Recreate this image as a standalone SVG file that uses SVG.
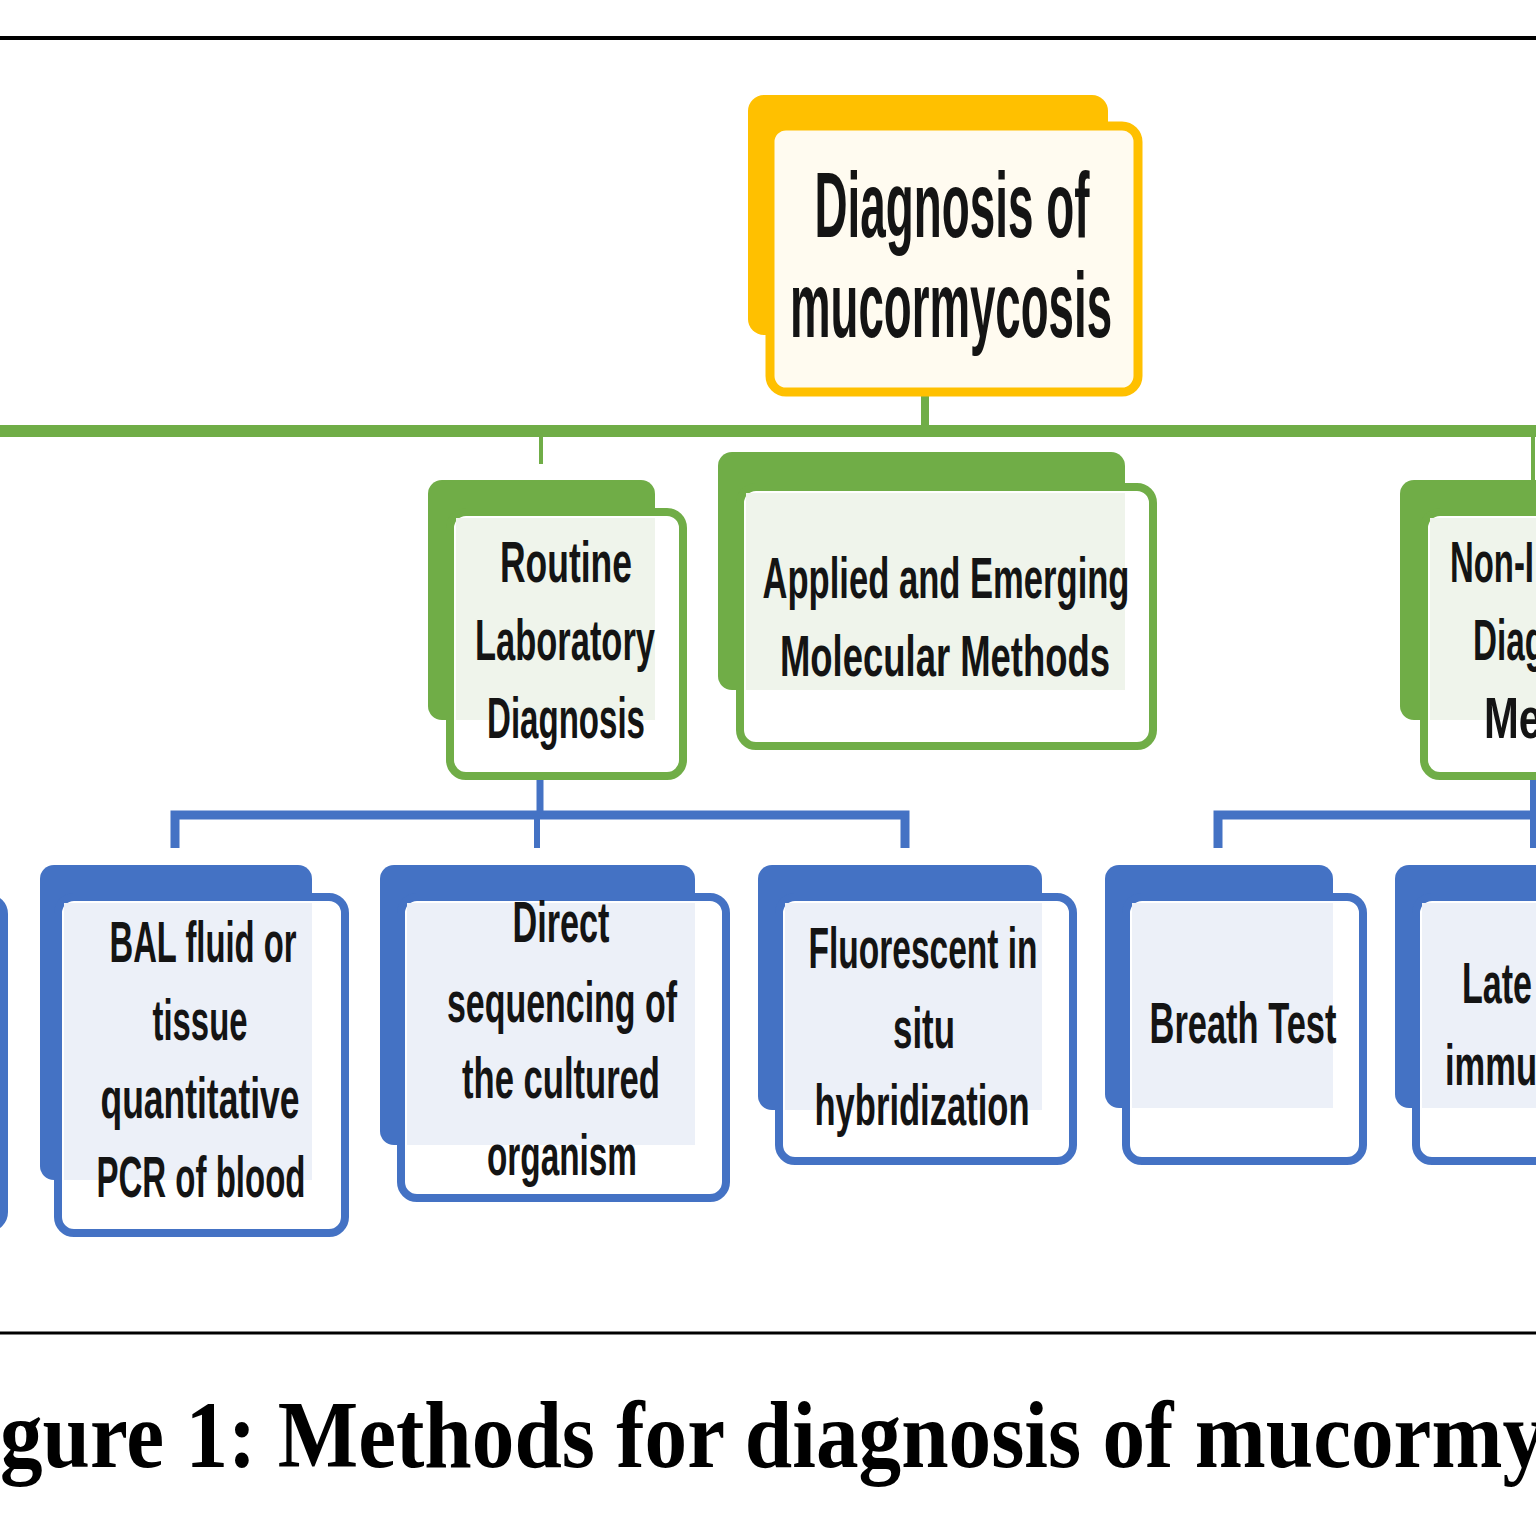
<svg xmlns="http://www.w3.org/2000/svg" width="1536" height="1536" viewBox="0 0 1536 1536">
<style>
.t{font-family:"Liberation Sans",Arial,sans-serif;font-size:57px;font-weight:bold;fill:#141414;text-anchor:middle}
.ts{font-family:"Liberation Sans",Arial,sans-serif;font-size:57px;font-weight:bold;fill:#141414;text-anchor:start}
.tr{font-size:92px}
.gb{fill:#70AD47}
.gf{fill:#FFFFFF;stroke:#70AD47;stroke-width:8}
.gi{fill:#EFF4EB}
.bb{fill:#4472C4}
.bf{fill:#FFFFFF;stroke:#4472C4;stroke-width:8}
.bi{fill:#ECF0F8}
.gl{stroke:#70AD47;fill:none}
.bl{stroke:#4472C4;fill:none}
</style>
<rect width="1536" height="1536" fill="#FFFFFF"/>
<line x1="0" y1="38" x2="1536" y2="38" stroke="#000" stroke-width="4"/>
<line x1="0" y1="1333" x2="1536" y2="1333" stroke="#000" stroke-width="3"/>

<g id="connectors">
<line class="gl" x1="0" y1="431" x2="1536" y2="431" stroke-width="12"/>
<line class="gl" x1="925" y1="392" x2="925" y2="431" stroke-width="8"/>
<line class="gl" x1="541" y1="431" x2="541" y2="464" stroke-width="4"/>
<line class="gl" x1="1533" y1="431" x2="1533" y2="480" stroke-width="4"/>
<line class="bl" x1="540" y1="778" x2="540" y2="815" stroke-width="7"/>
<polyline class="bl" points="175,848 175,815 905,815 905,848" stroke-width="9"/>
<line class="bl" x1="537" y1="815" x2="537" y2="848" stroke-width="6"/>
<polyline class="bl" points="1218,848 1218,815 1540,815" stroke-width="9"/>
<line class="bl" x1="1533" y1="778" x2="1533" y2="848" stroke-width="6"/>
</g>

<g id="root">
<rect x="748" y="95" width="360" height="240" rx="16" fill="#FFC000"/>
<rect x="770" y="126" width="368" height="266" rx="16" fill="#FFFBF0" stroke="#FFC000" stroke-width="9"/>
<text class="t tr" x="952" y="237" textLength="275" lengthAdjust="spacingAndGlyphs">Diagnosis of</text>
<text class="t tr" x="951" y="337" textLength="322" lengthAdjust="spacingAndGlyphs">mucormycosis</text>
</g>

<g id="routine">
<rect class="gb" x="428" y="480" width="227" height="240" rx="14"/>
<rect class="gf" x="450" y="512" width="233" height="264" rx="16"/>
<rect class="gi" x="456" y="518" width="199" height="202"/>
<text class="t" x="566" y="582" textLength="132" lengthAdjust="spacingAndGlyphs">Routine</text>
<text class="t" x="565" y="660" textLength="180" lengthAdjust="spacingAndGlyphs">Laboratory</text>
<text class="t" x="566" y="738" textLength="158" lengthAdjust="spacingAndGlyphs">Diagnosis</text>
</g>

<g id="applied">
<rect class="gb" x="718" y="452" width="407" height="238" rx="14"/>
<rect class="gf" x="740" y="487" width="413" height="259" rx="16"/>
<rect class="gi" x="746" y="493" width="379" height="197"/>
<text class="t" x="946" y="598" textLength="367" lengthAdjust="spacingAndGlyphs">Applied and Emerging</text>
<text class="t" x="945" y="676" textLength="330" lengthAdjust="spacingAndGlyphs">Molecular Methods</text>
</g>

<g id="noninvasive">
<rect class="gb" x="1400" y="480" width="180" height="240" rx="14"/>
<rect class="gf" x="1424" y="512" width="180" height="264" rx="16"/>
<rect class="gi" x="1430" y="518" width="110" height="202"/>
<text class="ts" x="1450" y="582" textLength="84" lengthAdjust="spacingAndGlyphs">Non-I</text>
<text class="ts" x="1473" y="660" textLength="72" lengthAdjust="spacingAndGlyphs">Diag</text>
<text class="ts" x="1484" y="738" textLength="58" lengthAdjust="spacingAndGlyphs">Me</text>
</g>

<g id="leftcut">
<rect class="bf" x="-300" y="898" width="304" height="330" rx="16"/>
</g>

<g id="bal">
<rect class="bb" x="40" y="865" width="272" height="315" rx="14"/>
<rect class="bf" x="58" y="897" width="287" height="336" rx="16"/>
<rect class="bi" x="64" y="903" width="248" height="277"/>
<text class="t" x="203" y="962" textLength="187" lengthAdjust="spacingAndGlyphs">BAL fluid or</text>
<text class="t" x="200" y="1040" textLength="95" lengthAdjust="spacingAndGlyphs">tissue</text>
<text class="t" x="200" y="1118" textLength="199" lengthAdjust="spacingAndGlyphs">quantitative</text>
<text class="t" x="201" y="1197" textLength="209" lengthAdjust="spacingAndGlyphs">PCR of blood</text>
</g>

<g id="direct">
<rect class="bb" x="380" y="865" width="315" height="280" rx="14"/>
<rect class="bf" x="401" y="897" width="325" height="301" rx="16"/>
<rect class="bi" x="407" y="903" width="288" height="242"/>
<text class="t" x="561" y="942" textLength="97" lengthAdjust="spacingAndGlyphs">Direct</text>
<text class="t" x="562" y="1022" textLength="230" lengthAdjust="spacingAndGlyphs">sequencing of</text>
<text class="t" x="561" y="1098" textLength="198" lengthAdjust="spacingAndGlyphs">the cultured</text>
<text class="t" x="562" y="1175" textLength="150" lengthAdjust="spacingAndGlyphs">organism</text>
</g>

<g id="fluorescent">
<rect class="bb" x="758" y="865" width="284" height="245" rx="14"/>
<rect class="bf" x="779" y="897" width="294" height="264" rx="16"/>
<rect class="bi" x="785" y="903" width="257" height="207"/>
<text class="t" x="923" y="968" textLength="229" lengthAdjust="spacingAndGlyphs">Fluorescent in</text>
<text class="t" x="924" y="1048" textLength="62" lengthAdjust="spacingAndGlyphs">situ</text>
<text class="t" x="922" y="1125" textLength="215" lengthAdjust="spacingAndGlyphs">hybridization</text>
</g>

<g id="breath">
<rect class="bb" x="1105" y="865" width="228" height="243" rx="14"/>
<rect class="bf" x="1126" y="897" width="237" height="264" rx="16"/>
<rect class="bi" x="1132" y="903" width="201" height="205"/>
<text class="t" x="1243" y="1043" textLength="187" lengthAdjust="spacingAndGlyphs">Breath Test</text>
</g>

<g id="lateral">
<rect class="bb" x="1395" y="865" width="180" height="243" rx="14"/>
<rect class="bf" x="1416" y="897" width="180" height="264" rx="16"/>
<rect class="bi" x="1422" y="903" width="120" height="205"/>
<text class="ts" x="1462" y="1003" textLength="70" lengthAdjust="spacingAndGlyphs">Late</text>
<text class="ts" x="1445" y="1085" textLength="92" lengthAdjust="spacingAndGlyphs">immu</text>
</g>

<text x="0" y="1467" font-family="'Liberation Serif','Times New Roman',serif" font-weight="bold" font-size="96" fill="#000" textLength="1545" lengthAdjust="spacingAndGlyphs">gure 1: Methods for diagnosis of mucormy</text>
</svg>
